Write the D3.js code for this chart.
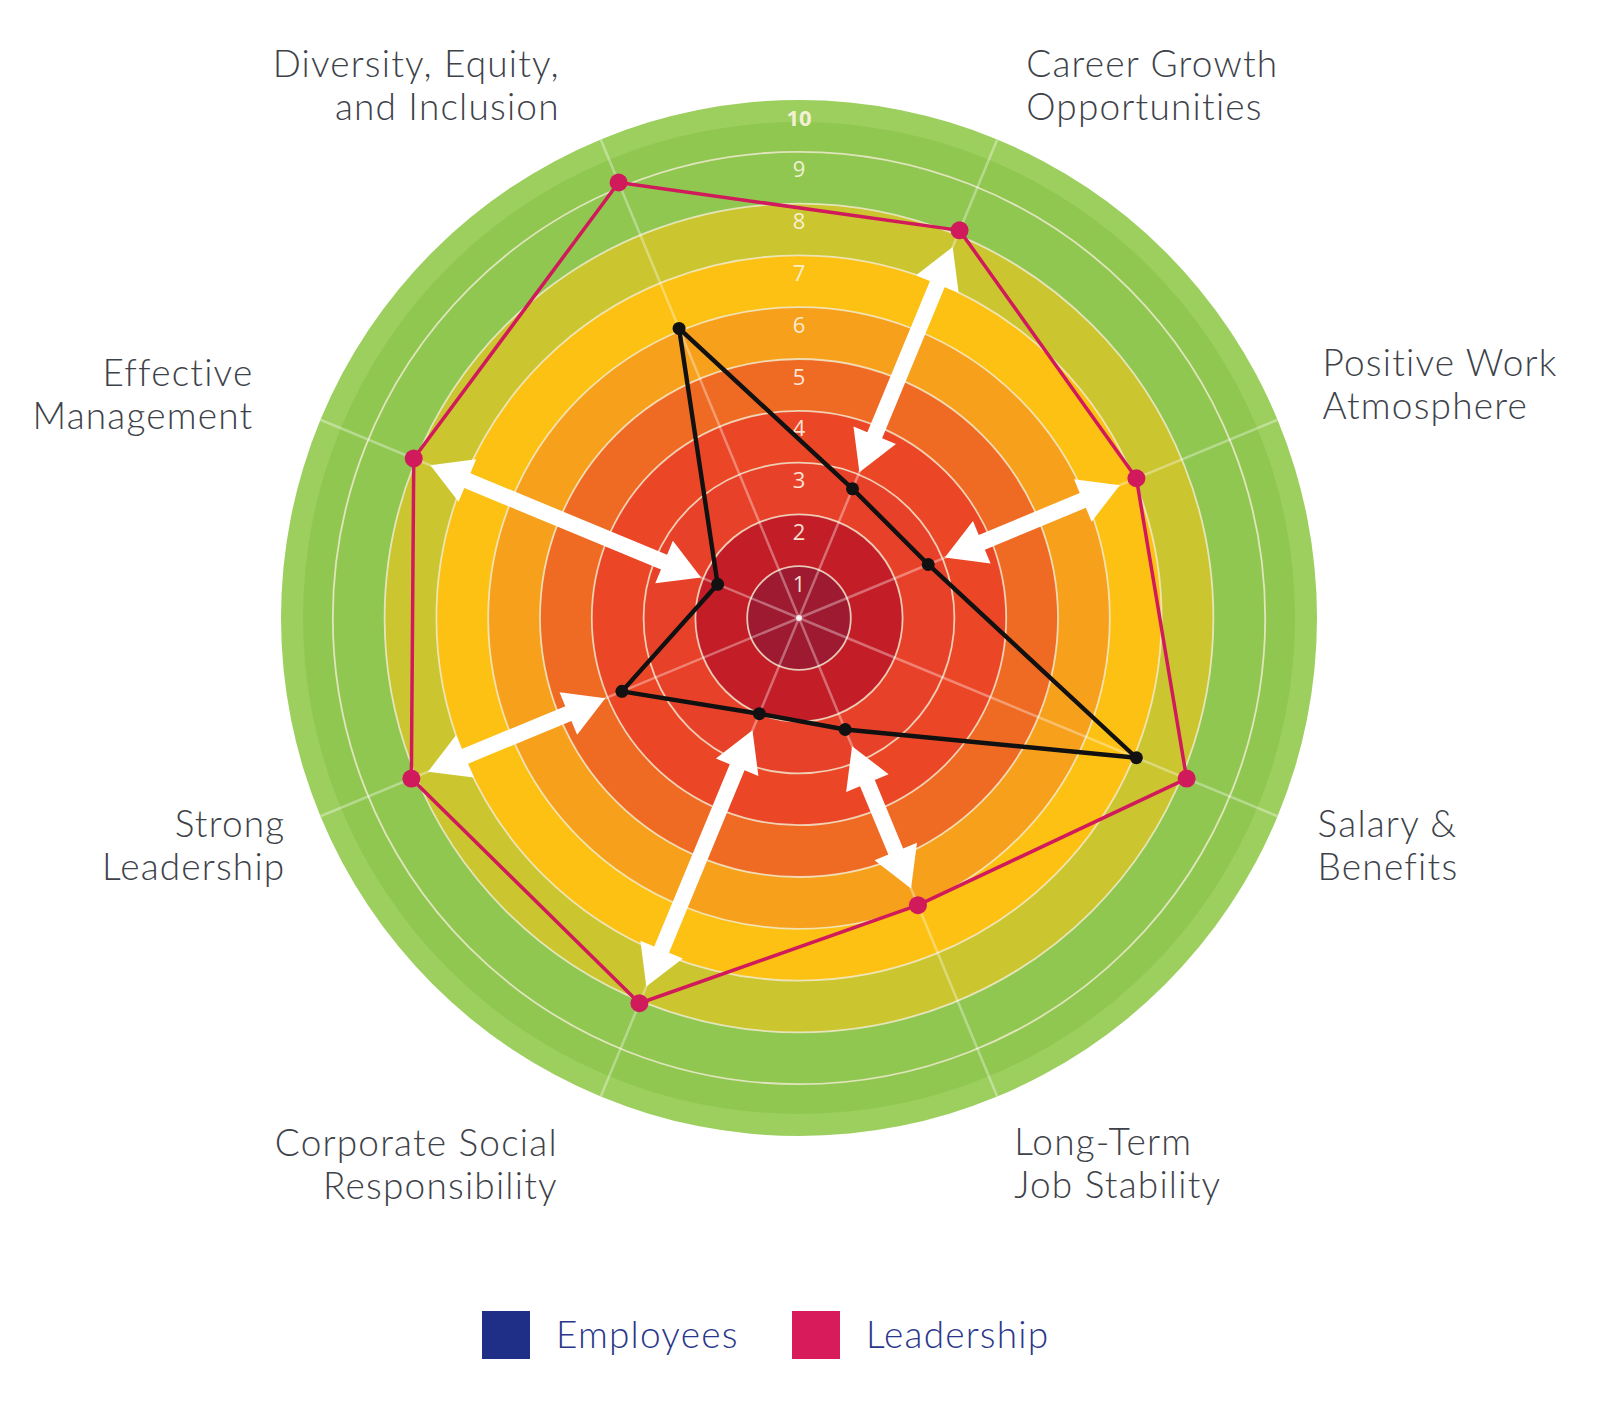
<!DOCTYPE html>
<html>
<head>
<meta charset="utf-8">
<script src="https://cdn.jsdelivr.net/npm/d3@7"></script>
<style>
  html, body { margin: 0; padding: 0; background: #fff; }
  svg { display: block; }
</style>
</head>
<body>
<div id="chartDiv"></div>
<script>
// axes go clockwise, the first one sits 22.5deg right of twelve o'clock
const categories = [
  'Career Growth Opportunities',
  'Positive Work Atmosphere',
  'Salary & Benefits',
  'Long-Term Job Stability',
  'Corporate Social Responsibility',
  'Strong Leadership',
  'Effective Management',
  'Diversity, Equity, and Inclusion'
]
const labelLines = [
  ['Career Growth', 'Opportunities'],
  ['Positive Work', 'Atmosphere'],
  ['Salary &', 'Benefits'],
  ['Long-Term', 'Job Stability'],
  ['Corporate Social', 'Responsibility'],
  ['Strong', 'Leadership'],
  ['Effective', 'Management'],
  ['Diversity, Equity,', 'and Inclusion']
]
const employees = [2.7, 2.7, 7.05, 2.33, 2.0, 3.7, 1.7, 6.05]
const leadership = [8.1, 7.05, 8.1, 6.0, 8.05, 8.1, 8.05, 9.1]
// axes that get a gap arrow
const arrowAxes = [
  'Career Growth Opportunities',
  'Positive Work Atmosphere',
  'Long-Term Job Stability',
  'Corporate Social Responsibility',
  'Strong Leadership',
  'Effective Management'
]
const tickLabels = ['1', '2', '3', '4', '5', '6', '7', '8', '9', '10']
const legendItems = ['Employees', 'Leadership']

// styling
const bandColors = ['#9d1a30', '#c31e27', '#e8412a', '#eb4727', '#ef6a23', '#f6a01c', '#fcc112', '#cbc530', '#8fc751', '#8fc751']
const rimColor = '#9dcf5f'
const empColor = '#111'
const leadColor = '#d11a5b'
const legendColors = ['#1f2e86', '#d81b5a']

const width = 1612
const height = 1404
const cx = 799
const cy = 618
const R = 518

const svg = d3.select('#chartDiv').append('svg')
  .attr('width', width)
  .attr('height', height)

const g = svg.append('g').attr('transform', `translate(${cx},${cy})`)

const r = d3.scaleLinear().domain([0, 10]).range([0, R])
const angle = i => (i * 45 + 22.5) * Math.PI / 180

// outer light rim, then coloured bands
g.append('circle').attr('r', R).attr('fill', rimColor)

const arc = d3.arc()
g.selectAll('path.band')
  .data(bandColors)
  .enter()
  .append('path')
  .attr('class', 'band')
  .attr('d', (d, i) => arc({
    innerRadius: r(i),
    outerRadius: i === 9 ? R - 22 : r(i + 1),
    startAngle: 0,
    endAngle: 2 * Math.PI
  }))
  .attr('fill', d => d)

// ring lines
g.selectAll('circle.ring')
  .data(d3.range(1, 10))
  .enter()
  .append('circle')
  .attr('class', 'ring')
  .attr('r', d => r(d))
  .attr('fill', 'none')
  .attr('stroke', '#f4ecd6')
  .attr('stroke-opacity', 0.8)
  .attr('stroke-width', 1.8)

// spokes
g.selectAll('line.spoke')
  .data(categories)
  .enter()
  .append('line')
  .attr('class', 'spoke')
  .attr('x1', 0)
  .attr('y1', 0)
  .attr('x2', (d, i) => d3.pointRadial(angle(i), R)[0])
  .attr('y2', (d, i) => d3.pointRadial(angle(i), R)[1])
  .attr('stroke', '#fff')
  .attr('stroke-opacity', 0.35)
  .attr('stroke-width', 2.5)

g.append('circle').attr('r', 3).attr('fill', '#fff').attr('fill-opacity', 0.8)

// value labels up the middle
g.selectAll('text.tick')
  .data(tickLabels)
  .enter()
  .append('text')
  .attr('class', 'tick')
  .attr('x', 0)
  .attr('y', (d, i) => -r(i + 0.68))
  .attr('text-anchor', 'middle')
  .attr('dominant-baseline', 'central')
  .attr('fill', '#fff4e2')
  .attr('fill-opacity', 0.92)
  .style('font-family', '"Open Sans", sans-serif')
  .style('font-size', '22px')
  .style('font-weight', d => d === '10' ? 700 : 500)
  .text(d => d)

// white double arrows from employee value to leadership value
const gap = 18
const headLen = 40
const headHalf = 23
const shaftHalf = 8
categories.forEach((c, i) => {
  if (!arrowAxes.includes(c)) return
  const r1 = r(employees[i]) + gap
  const r2 = r(leadership[i]) - gap
  // local frame: radial direction is -y
  const pts = [
    [0, -r1],
    [headHalf, -(r1 + headLen)],
    [shaftHalf, -(r1 + headLen)],
    [shaftHalf, -(r2 - headLen)],
    [headHalf, -(r2 - headLen)],
    [0, -r2],
    [-headHalf, -(r2 - headLen)],
    [-shaftHalf, -(r2 - headLen)],
    [-shaftHalf, -(r1 + headLen)],
    [-headHalf, -(r1 + headLen)]
  ]
  g.append('path')
    .attr('transform', `rotate(${angle(i) * 180 / Math.PI})`)
    .attr('d', d3.line()(pts) + 'Z')
    .attr('fill', '#fff')
})

// series polygons
const radial = d3.lineRadial()
  .angle((d, i) => angle(i))
  .radius(d => r(d))
  .curve(d3.curveLinearClosed)

g.append('path')
  .attr('d', radial(leadership))
  .attr('fill', 'none')
  .attr('stroke', leadColor)
  .attr('stroke-width', 3.5)
  .attr('stroke-linejoin', 'round')

g.selectAll('circle.lead')
  .data(leadership)
  .enter()
  .append('circle')
  .attr('class', 'lead')
  .attr('cx', (d, i) => d3.pointRadial(angle(i), r(d))[0])
  .attr('cy', (d, i) => d3.pointRadial(angle(i), r(d))[1])
  .attr('r', 9)
  .attr('fill', leadColor)

g.append('path')
  .attr('d', radial(employees))
  .attr('fill', 'none')
  .attr('stroke', empColor)
  .attr('stroke-width', 4.4)
  .attr('stroke-linejoin', 'round')

g.selectAll('circle.emp')
  .data(employees)
  .enter()
  .append('circle')
  .attr('class', 'emp')
  .attr('cx', (d, i) => d3.pointRadial(angle(i), r(d))[0])
  .attr('cy', (d, i) => d3.pointRadial(angle(i), r(d))[1])
  .attr('r', 6.5)
  .attr('fill', empColor)

// category labels, hung off the end of each spoke
const labelOffset = [[29, -62], [45, -44], [40, 21], [17, 58], [-43, 59], [-35, 21], [-67, -34], [-41, -62]]
const lineGap = 43
labelLines.forEach((lines, i) => {
  const [ex, ey] = d3.pointRadial(angle(i), R)
  const [ox, oy] = labelOffset[i]
  const rightSide = Math.sin(angle(i)) > 0
  const t = g.append('text')
    .attr('text-anchor', rightSide ? 'start' : 'end')
    .attr('fill', '#3d4249')
    .style('font-family', 'Lato, sans-serif')
    .style('font-size', '37px')
    .style('font-weight', 300)
    .style('letter-spacing', '1.2px')
  lines.forEach((ln, j) => {
    t.append('tspan')
      .attr('x', ex + ox)
      .attr('y', ey + oy + j * lineGap)
      .text(ln)
  })
})

// legend
const legend = svg.append('g').attr('transform', 'translate(482,1311)')
const legendX = [0, 310]
legendItems.forEach((name, i) => {
  legend.append('rect')
    .attr('x', legendX[i])
    .attr('y', 0)
    .attr('width', 48)
    .attr('height', 48)
    .attr('fill', legendColors[i])
  legend.append('text')
    .attr('x', legendX[i] + 74)
    .attr('y', 37)
    .attr('fill', '#2a378a')
    .style('font-family', 'Lato, sans-serif')
    .style('font-size', '37px')
    .style('font-weight', 300)
    .style('letter-spacing', '1.2px')
    .text(name)
})
</script>
</body>
</html>
